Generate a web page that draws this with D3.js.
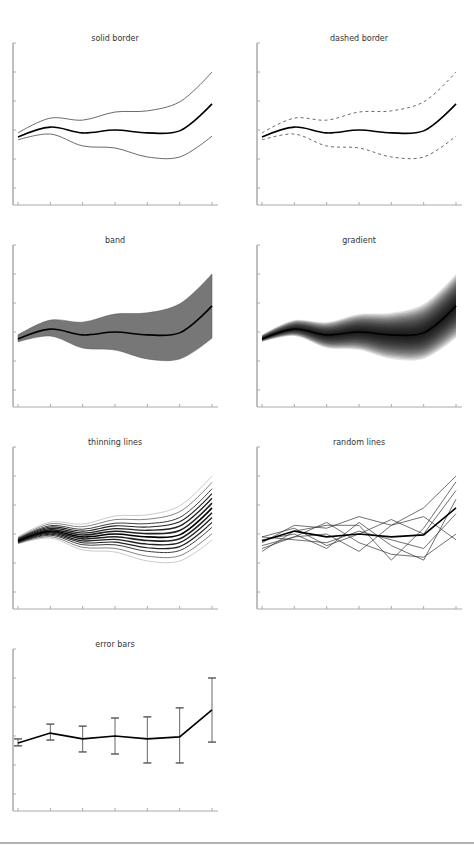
<!DOCTYPE html>
<html><head><meta charset="utf-8">
<script src="https://cdn.jsdelivr.net/npm/d3@7"></script>
<style>body{margin:0;background:#fff}text{font-family:"DejaVu Sans",sans-serif}</style>
</head><body><svg width="474" height="845"></svg>
<script>
var xs = [0, 1, 2, 3, 4, 5, 6];
var mean = [1.76, 2.10, 1.90, 2.00, 1.90, 1.97, 2.90];
var upper = [1.90, 2.41, 2.34, 2.62, 2.66, 2.97, 4.00];
var lower = [1.66, 1.86, 1.45, 1.38, 1.07, 1.07, 1.79];
var randomLines = [
  [1.7, 2.3, 2.2, 2.6, 2.3, 2.9, 4.0],
  [1.8, 2.0, 1.5, 2.4, 1.6, 1.1, 3.2],
  [1.5, 1.9, 2.4, 1.7, 1.3, 1.2, 2.0],
  [1.9, 2.2, 1.6, 2.0, 2.5, 2.0, 3.5],
  [1.6, 1.9, 2.0, 1.4, 2.3, 2.6, 1.8],
  [1.9, 1.8, 1.7, 2.1, 1.8, 1.5, 2.7],
  [1.4, 2.1, 2.3, 2.3, 1.1, 2.2, 3.8]
];
var titles = ["solid border", "dashed border", "band", "gradient", "thinning lines", "random lines", "error bars"];
var yTicks = [0, 1, 2, 3, 4, 5];

var svg = d3.select("svg");
var x = d3.scaleLinear().domain([0, 6]).range([18, 212]);
var y = d3.scaleLinear().domain([0, 5]).range([188, 43]);
var curve = d3.curveCatmullRom.alpha(0.5);
var smooth = d3.line().x(function (d, i) { return x(xs[i]); }).y(function (d) { return y(d); }).curve(curve);
var straight = d3.line().x(function (d, i) { return x(xs[i]); }).y(function (d) { return y(d); });
function bandArea(f) {
  return d3.area().x(function (d, i) { return x(xs[i]); })
    .y0(function (d, i) { return y(mean[i] + f * (lower[i] - mean[i])); })
    .y1(function (d, i) { return y(mean[i] + f * (upper[i] - mean[i])); })
    .curve(curve)(mean);
}

titles.forEach(function (t, k) {
  var g = svg.append("g").attr("transform", "translate(" + (k % 2) * 244 + "," + Math.floor(k / 2) * 202 + ")");
  g.append("text").attr("x", 115).attr("y", 41).attr("text-anchor", "middle").attr("font-size", 8).attr("fill", "#333").text(t);
  var ax = g.append("g").attr("stroke", "#aaa").attr("fill", "none");
  ax.append("line").attr("x1", 13).attr("x2", 13).attr("y1", 43).attr("y2", 205).attr("stroke-width", 1.5);
  ax.append("line").attr("x1", 13).attr("x2", 218).attr("y1", 205).attr("y2", 205).attr("stroke-width", 1);
  yTicks.forEach(function (v) { ax.append("line").attr("x1", 13).attr("x2", 16).attr("y1", y(v)).attr("y2", y(v)); });
  xs.forEach(function (v) { ax.append("line").attr("x1", x(v)).attr("x2", x(v)).attr("y1", 205).attr("y2", 202); });

  if (k === 0 || k === 1) {
    [upper, lower].forEach(function (s) {
      g.append("path").attr("d", smooth(s)).attr("fill", "none").attr("stroke", "#444").attr("stroke-width", 0.8)
        .attr("stroke-dasharray", k === 1 ? "3,3" : null);
    });
  }
  if (k === 2) g.append("path").attr("d", bandArea(1)).attr("fill", "#777").attr("stroke", "#555").attr("stroke-width", 0.5);
  if (k === 3) {
    d3.range(1, 0, -0.05).forEach(function (f) {
      g.append("path").attr("d", bandArea(f)).attr("fill", "#000").attr("fill-opacity", 0.1);
    });
  }
  if (k === 4) {
    [0.15, 0.3, 0.45, 0.6, 0.8, 1].forEach(function (f) {
      [1, -1].forEach(function (s) {
        var pts = mean.map(function (m, i) { return m + f * ((s > 0 ? upper[i] : lower[i]) - m); });
        g.append("path").attr("d", smooth(pts)).attr("fill", "none").attr("stroke", "#222").attr("stroke-width", 1.6 * (1.15 - f));
      });
    });
  }
  if (k === 5) {
    randomLines.forEach(function (s) {
      g.append("path").attr("d", straight(s)).attr("fill", "none").attr("stroke", "#333").attr("stroke-width", 0.7);
    });
  }
  if (k === 6) {
    xs.forEach(function (v, i) {
      var eb = g.append("g").attr("stroke", "#555").attr("stroke-width", 0.9);
      eb.append("line").attr("x1", x(v)).attr("x2", x(v)).attr("y1", y(upper[i])).attr("y2", y(lower[i]));
      [upper[i], lower[i]].forEach(function (e) {
        eb.append("line").attr("x1", x(v) - 4).attr("x2", x(v) + 4).attr("y1", y(e)).attr("y2", y(e)).attr("stroke-width", 1.4);
      });
    });
  }
  g.append("path").attr("d", k === 6 || k === 5 ? straight(mean) : smooth(mean)).attr("fill", "none").attr("stroke", "#000").attr("stroke-width", 1.6);
});
svg.append("line").attr("x1", 0).attr("x2", 474).attr("y1", 843).attr("y2", 843).attr("stroke", "#999").attr("stroke-width", 1.5);
</script></body></html>
